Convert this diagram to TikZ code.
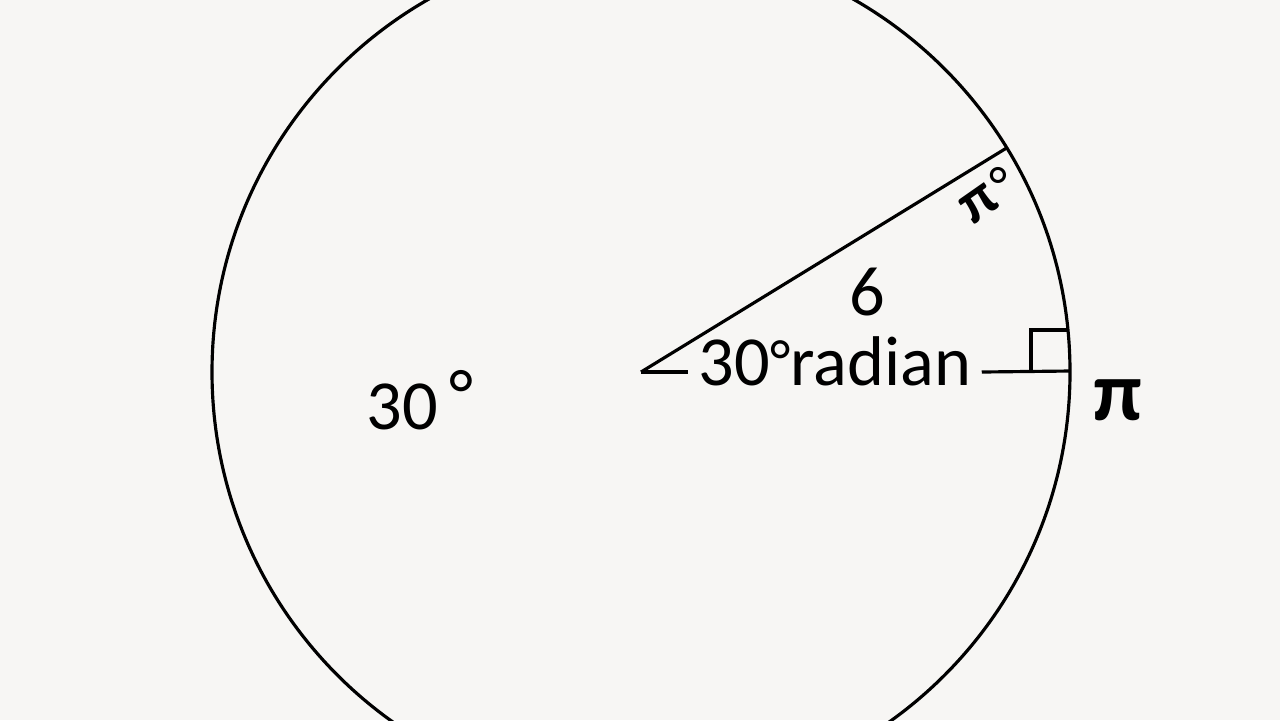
\documentclass[tikz,border=0pt]{standalone}
\usepackage{fontspec}
\setmainfont{Carlito}
\usepackage{tikz}
\definecolor{paper}{RGB}{247,246,244}
\tikzset{
  thin line/.style={draw=black,line width=0.9pt},
  big label/.style={font=\fontsize{20}{24}\selectfont,inner sep=0pt},
}

\begin{document}
\begin{tikzpicture}[x=0.01cm,y=-0.01cm]
\fill[paper] (0,0) rectangle (1280,720);
\useasboundingbox (0,0) rectangle (1280,720);
\clip (0,0) rectangle (1280,720);
\coordinate (O) at (641,372);
\coordinate (A) at ([shift={(-31.5:429)}]O);
\coordinate (B) at (1069,371);
\draw[thin line] (O) circle (429);
\draw[thin line] (O) -- (A);
\node[big label,anchor=base] (lbl) at (835,385) {30\raisebox{0.05em}{\fontsize{17}{20}\selectfont°}radian};
\draw[thin line] (O) -- ([xshift=-3]lbl.west |- O);
\draw[thin line] (lbl.east |- O) ++(10,0) -- (B);
\draw[thin line] (B) ++(-38,0) |- ++(38,-41);
\node[big label] (six) at (867,292) {6};
\node[big label] (left) at (420,400) {30\,\raisebox{0.15em}{°}};
\node[big label,font=\fontsize{24}{28}\selectfont\bfseries] (pi) at (1118,400) {π};
\node[inner sep=0pt,rotate=35,font=\fontsize{17}{20}\selectfont\bfseries] (piA) at (979,204) {π};
\node[inner sep=0pt,anchor=north,font=\fontsize{15}{18}\selectfont] (deg) at (998,167) {°};
\end{tikzpicture}
\end{document}
